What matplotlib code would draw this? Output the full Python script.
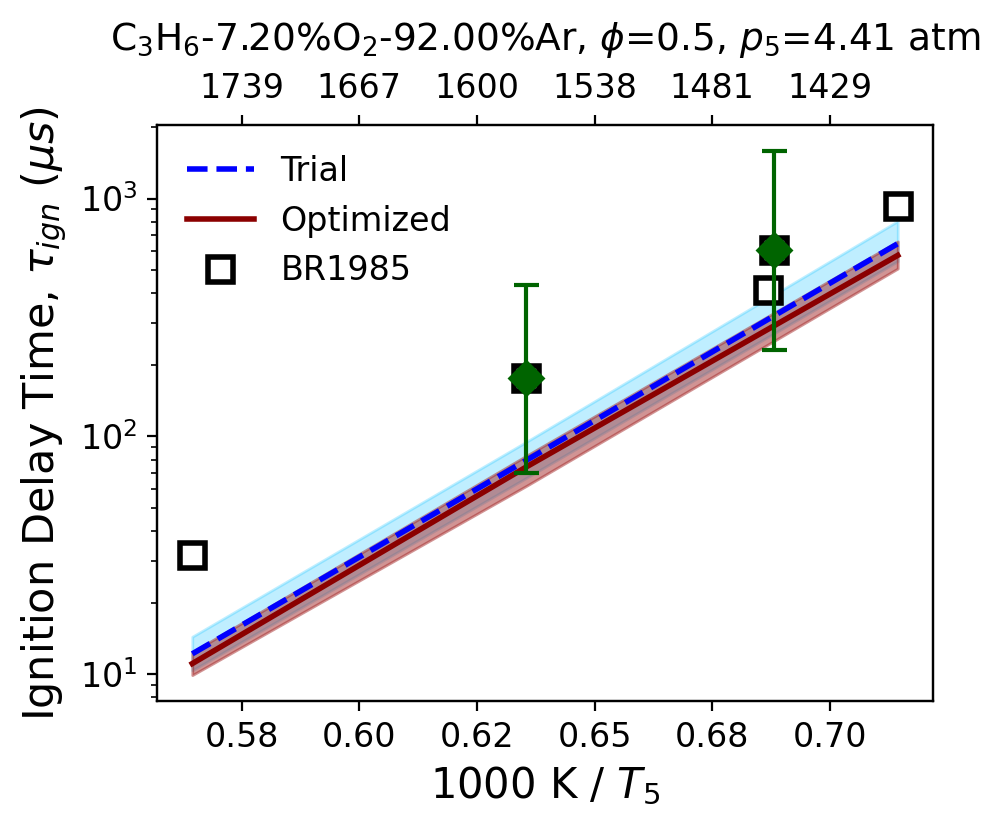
import numpy as np
import matplotlib
matplotlib.use("Agg")
import matplotlib.pyplot as plt

# simulated curves (1000/T vs ignition delay, us)
x_sim = [0.5645, 0.6355, 0.7144]
tau_trial = [12.2, 79.4, 646]
tau_trial_lo = [10.4, 67.0, 545]
tau_trial_hi = [14.4, 95.0, 804]
tau_opt = [11.1, 74.5, 577]
tau_opt_lo = [9.93, 62.0, 508]
tau_opt_hi = [12.4, 83.0, 660]

# BR1985 shock tube data
x_exp = [0.5645, 0.6355, 0.6869, 0.6882, 0.7144]
tau_exp = [31.9, 176, 414, 605, 930]

# points with uncertainty
x_unc = [0.6355, 0.6882]
tau_unc = [176, 605]
tau_unc_lo = [70.5, 230]
tau_unc_hi = [434, 1583]

xticks = [0.575, 0.600, 0.625, 0.650, 0.675, 0.700]
xtick_labels = ["0.58", "0.60", "0.62", "0.65", "0.68", "0.70"]

fig = plt.figure(figsize=(5, 4.135), dpi=200)
ax = fig.add_axes([0.157, 0.152, 0.776, 0.697])

ax.fill_between(x_sim, tau_trial_lo, tau_trial_hi, color="deepskyblue", alpha=0.25)
ax.fill_between(x_sim, tau_opt_lo, tau_opt_hi, color="brown", alpha=0.5)
ax.plot(x_sim, tau_opt, color="darkred", lw=2, label="Optimized", zorder=3)
ax.plot(x_sim, tau_trial, color="blue", ls="--", lw=2, label="Trial", zorder=4)
ax.plot(x_exp, tau_exp, ls="none", marker="s", ms=9, mfc="white", mec="black",
        mew=2, label="BR1985", zorder=5)
yerr = [np.array(tau_unc) - np.array(tau_unc_lo), np.array(tau_unc_hi) - np.array(tau_unc)]
ax.errorbar(x_unc, tau_unc, yerr=yerr, fmt="D", color="darkgreen", ms=8.5,
            elinewidth=1.5, capsize=4.5, capthick=1.5, zorder=6)

ax.set_yscale("log")
ax.set_xticks(xticks)
ax.set_xticklabels(xtick_labels)
ax.tick_params(labelsize=12)
ax.set_xlabel("1000 K / $T_5$", fontsize=15)
ax.set_ylabel(r"Ignition Delay Time, $\tau_{ign}$ ($\mu s$)", fontsize=15.5)

handles, labels = ax.get_legend_handles_labels()
order = [labels.index("Trial"), labels.index("Optimized"), labels.index("BR1985")]
ax.legend([handles[i] for i in order], [labels[i] for i in order],
          loc="upper left", frameon=False, fontsize=12)

ax2 = ax.twiny()
ax2.set_xlim(ax.get_xlim())
ax2.set_xticks(xticks)
ax2.set_xticklabels(["%d" % round(1000 / t) for t in xticks])
ax2.tick_params(labelsize=12)
ax2.set_title(r"C$_3$H$_6$-7.20%O$_2$-92.00%Ar, $\phi$=0.5, $p_5$=4.41 atm",
              fontsize=13.5, pad=8)

fig.savefig("out.png", dpi=200)
